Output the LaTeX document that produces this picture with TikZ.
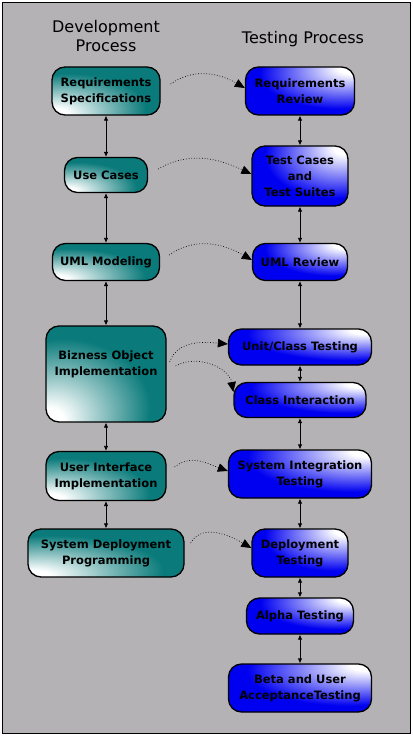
\documentclass[tikz,border=0pt]{standalone}
\usepackage{fontspec}
\setmainfont{DejaVu Sans}
\usetikzlibrary{arrows.meta}
\definecolor{devteal}{RGB}{10,122,122}
\definecolor{testblue}{RGB}{0,0,240}
\definecolor{bggray}{RGB}{180,178,180}
\pgfdeclareradialshading{devshade}{\pgfpoint{-25bp}{-25bp}}{color(0bp)=(white); color(6bp)=(white); color(36bp)=(devteal); color(120bp)=(devteal)}
\pgfdeclareradialshading{testshade}{\pgfpoint{25bp}{25bp}}{color(0bp)=(white); color(6bp)=(white); color(36bp)=(testblue); color(120bp)=(testblue)}
\tikzstyle{box}=[draw, line width=1.3pt, rounded corners=13pt, align=center, inner sep=0pt, font=\bfseries\fontsize{11.5}{16}\selectfont]
\tikzstyle{devbox}=[box, shade, shading=devshade]
\tikzstyle{testbox}=[box, shade, shading=testshade]
\tikzstyle{flow}=[{Latex[length=5pt,width=4.5pt]}-{Latex[length=5pt,width=4.5pt]}, line width=0.8pt]
\tikzstyle{link}=[-{Triangle[length=10pt,width=8.5pt]}, dotted, line width=0.7pt]
\tikzstyle{heading}=[align=center, font=\fontsize{16}{19}\selectfont]

\begin{document}
\begin{tikzpicture}[x=1pt, y=-1pt]
    \useasboundingbox (0,0) rectangle (412,738);
    \draw[fill=bggray, line width=1pt] (2.5,2.5) rectangle (410,733.5);
% Headings
    \node[heading] (devtitle) at (106,36.5) {Development\\Process};
    \node[heading] (testtitle) at (303,39) {Testing Process};
% Development process
    \node[devbox, minimum width=108pt, minimum height=48pt] (devreq) at (106,91) {Requirements\\Specifications};
    \node[devbox, minimum width=83pt, minimum height=35pt] (devuse) at (106,175) {Use Cases};
    \node[devbox, minimum width=107pt, minimum height=37pt] (devuml) at (106,262) {UML Modeling};
    \node[devbox, minimum width=120pt, minimum height=96pt, text depth=22pt] (devbiz) at (106,374) {Bizness Object\\Implementation};
    \node[devbox, minimum width=120pt, minimum height=49pt] (devui) at (106,476) {User Interface\\Implementation};
    \node[devbox, minimum width=156pt, minimum height=48pt] (devdeploy) at (106,553) {System Deployment\\Programming};
% Testing process
    \node[testbox, minimum width=109pt, minimum height=48pt] (testreq) at (300,91) {Requirements\\Review};
    \node[testbox, minimum width=96pt, minimum height=60pt] (testcase) at (300,176) {Test Cases\\and\\Test Suites};
    \node[testbox, minimum width=95pt, minimum height=37pt] (testuml) at (300,262) {UML Review};
    \node[testbox, minimum width=143pt, minimum height=36pt] (testunit) at (300,347) {Unit/Class Testing};
    \node[testbox, minimum width=132pt, minimum height=35pt] (testclass) at (300,400) {Class Interaction};
    \node[testbox, minimum width=143pt, minimum height=48pt] (testsys) at (300,474) {System Integration\\Testing};
    \node[testbox, minimum width=96pt, minimum height=48pt] (testdeploy) at (300,553) {Deployment\\Testing};
    \node[testbox, minimum width=107pt, minimum height=36pt] (testalpha) at (300,616) {Alpha Testing};
    \node[testbox, minimum width=143pt, minimum height=48pt] (testbeta) at (300,688) {Beta and User\\AcceptanceTesting};
% Steps down each column
    \draw[flow] (devreq) -- (devuse);
    \draw[flow] (devuse) -- (devuml);
    \draw[flow] (devuml) -- (devbiz);
    \draw[flow] (devbiz) -- (devui);
    \draw[flow] (devui) -- (devdeploy);
    \draw[flow] (testreq) -- (testcase);
    \draw[flow] (testcase) -- (testuml);
    \draw[flow] (testuml) -- (testunit);
    \draw[flow] (testunit) -- (testclass);
    \draw[flow] (testclass) -- (testsys);
    \draw[flow] (testsys) -- (testdeploy);
    \draw[flow] (testdeploy) -- (testalpha);
    \draw[flow] (testalpha) -- (testbeta);
% Development to testing
    \draw[link] ([xshift=10pt,yshift=7pt]devreq.east) to[out=35,in=150] ([yshift=3pt]testreq.west);
    \draw[link] ([xshift=10pt,yshift=6pt]devuse.east) to[out=30,in=155] ([yshift=2pt]testcase.west);
    \draw[link] ([xshift=9pt,yshift=7pt]devuml.east) to[out=35,in=150] ([yshift=2pt]testuml.west);
    \draw[link] ([xshift=3pt,yshift=12pt]devbiz.east) to[out=70,in=175] ([yshift=3pt]testunit.west);
    \draw[link] ([xshift=9pt,yshift=8pt]devbiz.east) to[out=30,in=100] ([yshift=8pt]testclass.west);
    \draw[link] ([xshift=8pt,yshift=9pt]devui.east) to[out=40,in=160] ([yshift=3pt]testsys.west);
    \draw[link] ([xshift=6pt,yshift=10pt]devdeploy.east) to[out=60,in=150] ([yshift=5pt]testdeploy.west);
\end{tikzpicture}
\end{document}
